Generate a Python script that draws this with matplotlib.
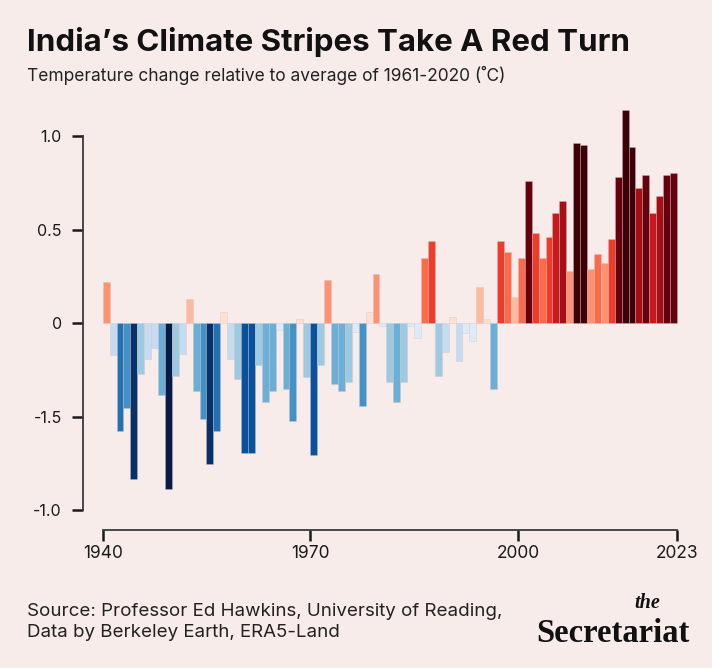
#!/usr/bin/env python
"""India's climate stripes as a bar chart"""
import numpy as np
import matplotlib
matplotlib.use('Agg')
import matplotlib.pyplot as plt
from matplotlib.colors import ListedColormap, BoundaryNorm

plt.rcParams['font.family'] = ['Inter', 'DejaVu Sans']

BG = '#f8ecea'
INK = '#1a1a1a'

# ---- data: anomaly vs 1961-2020 mean (deg C) ----
years = list(range(1940, 2023))
anomaly = [
    0.22, -0.17, -0.575, -0.455, -0.835, -0.275, -0.195, -0.135, -0.385, -0.885,   # 1940s
    -0.285, -0.165, 0.13, -0.365, -0.515, -0.755, -0.575, 0.06, -0.195, -0.30,     # 1950s
    -0.695, -0.695, -0.225, -0.425, -0.365, -0.035, -0.355, -0.525, 0.02, -0.29,   # 1960s
    -0.705, -0.225, 0.23, -0.325, -0.365, -0.315, -0.05, -0.445, 0.06, 0.26,       # 1970s
    -0.015, -0.315, -0.42, -0.315, -0.015, -0.08, 0.35, 0.44, -0.285, -0.155,      # 1980s
    0.03, -0.205, -0.055, -0.095, 0.19, 0.02, -0.355, 0.44, 0.38, 0.14,            # 1990s
    0.35, 0.76, 0.48, 0.35, 0.46, 0.59, 0.65, 0.28, 0.96, 0.95,                    # 2000s
    0.29, 0.37, 0.32, 0.45, 0.78, 1.14, 0.94, 0.72, 0.79, 0.59,                    # 2010s
    0.68, 0.79, 0.80,                                                              # 2020s
]

xtick_years = [1940, 1970, 2000, 2023]
ytick_vals = [-1.0, -0.5, 0, 0.5, 1.0]
ytick_labels = ['-1.0', '-1.5', '0', '0.5', '1.0']   # as printed on the original

# stripe colour bins (blues below zero, reds above)
bin_edges = [-1.2, -0.86, -0.73, -0.65, -0.53, -0.43, -0.32, -0.21, -0.11, 0,
             0.1, 0.2, 0.33, 0.41, 0.5, 0.62, 0.74, 0.85, 1.3]
bin_colors = ['#061c47', '#08306b', '#08519c', '#2171b5', '#4292c6', '#6baed6',
              '#9ecae1', '#c6dbef', '#deebf7', '#fee0d2', '#fcbba1', '#fc9272',
              '#fb6a4a', '#ef3b2c', '#cb181d', '#a50f15', '#67000d', '#3d0006']

cmap = ListedColormap(bin_colors)
norm = BoundaryNorm(bin_edges, cmap.N)
bar_colors = cmap(norm(np.array(anomaly)))

# ---- PLOT ----
fig = plt.figure(figsize=(7.12, 6.68), dpi=100, facecolor=BG)
ax = fig.add_axes([0.1442, 0.2365, 0.8066, 0.5599], facecolor=BG)

ax.bar(years, anomaly, width=1.0, align='edge', color=bar_colors,
       edgecolor=(0.82, 0.76, 0.76, 0.5), linewidth=0.5, clip_on=False)

ax.set_xlim(1940, 2023)
ax.set_ylim(-1, 1)
for side in ['top', 'right']:
    ax.spines[side].set_visible(False)
for side in ['left', 'bottom']:
    ax.spines[side].set_position(('outward', 14.4))
    ax.spines[side].set_color('#3a3a3a')
    ax.spines[side].set_linewidth(1.3)

ax.set_xticks(xtick_years)
ax.set_xticklabels([str(y) for y in xtick_years])
ax.set_yticks(ytick_vals)
ax.set_yticklabels(ytick_labels)
ax.tick_params(axis='both', direction='out', length=8, width=1.8, color=INK,
               labelcolor=INK)
ax.tick_params(axis='y', pad=7, labelsize=11.5)
ax.tick_params(axis='x', pad=3, labelsize=12.5)

# ---- text ----
fig.text(0.038, 1 - 51 / 668, 'India\u2019s Climate Stripes Take A Red Turn',
         fontsize=22.5, fontweight='bold', color='#111111', va='baseline')
fig.text(0.038, 1 - 81 / 668, 'Temperature change relative to average of 1961-2020 (\u02daC)',
         fontsize=12.5, color='#222222', va='baseline')
fig.text(0.038, 1 - 603 / 668,
         'Source: Professor Ed Hawkins, University of Reading,\nData by Berkeley Earth, ERA5-Land',
         fontsize=13.5, color='#222222', va='top', linespacing=1.3)

# wordmark
fig.text(0.927, 1 - 608 / 668, 'the', family='Liberation Serif', fontsize=14.5,
         fontweight='bold', style='italic', color='#111111', ha='right', va='baseline')
fig.text(0.969, 1 - 642 / 668, 'Secretariat', family='Liberation Serif', fontsize=23.5,
         fontweight='bold', color='#111111', ha='right', va='baseline')

plt.savefig('out.png', dpi=100, facecolor=BG)
plt.close()
print("out.png saved")
